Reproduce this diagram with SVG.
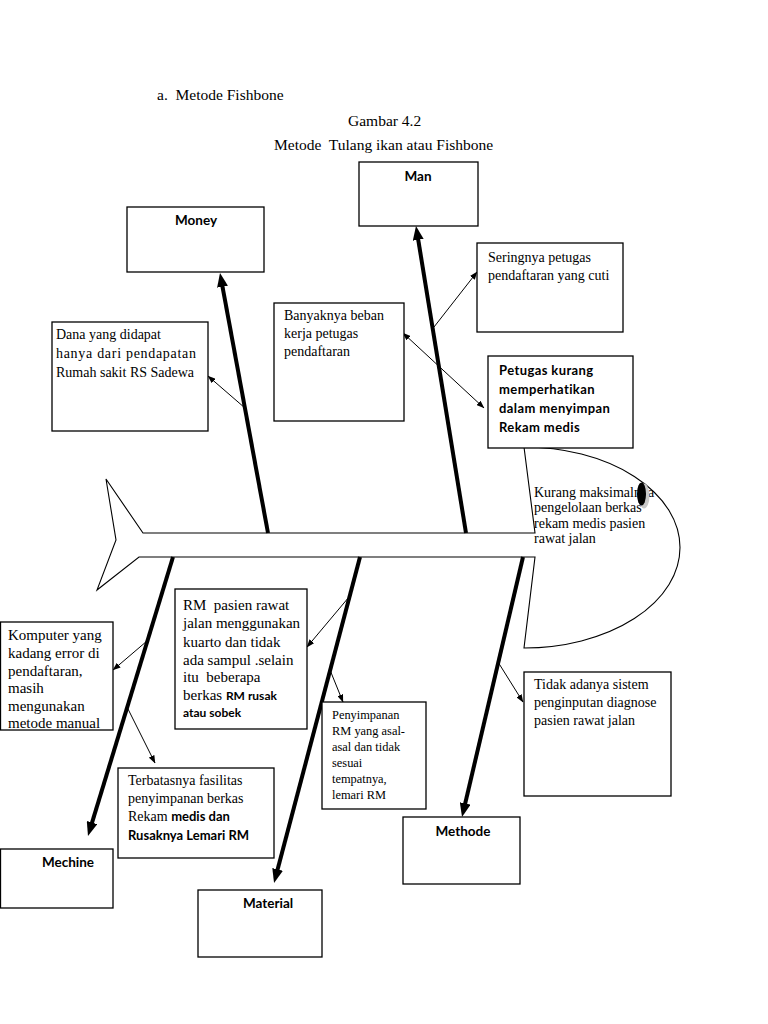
<svg xmlns="http://www.w3.org/2000/svg" width="768" height="1024" viewBox="0 0 768 1024">
  <defs>
    <style>
      .box { fill: #fff; stroke: #000; stroke-width: 1.3; }
      .serif { font-family: "Liberation Serif", "Times New Roman", serif; fill: #000; }
      .lbl { font-family: Lato, "Liberation Sans", sans-serif; font-weight: bold; font-size: 13.5px; fill: #000; text-anchor: middle; }
      .sansb { font-family: Lato, "Liberation Sans", sans-serif; font-weight: bold; fill: #000; }
      .bone { stroke: #000; stroke-width: 4; fill: none; marker-end: url(#bigArrow); }
      .thin { stroke: #000; stroke-width: 1; fill: none; marker-end: url(#smallArrow); }
      .fish { fill: #fff; stroke: #000; stroke-width: 1.1; stroke-linejoin: miter; }
    </style>
    <marker id="bigArrow" viewBox="0 0 14 11" markerWidth="14" markerHeight="11" refX="4" refY="5.5" orient="auto" markerUnits="userSpaceOnUse">
      <path d="M0,0 L14,5.5 L0,11 Z" fill="#000"/>
    </marker>
    <marker id="smallArrow" viewBox="0 0 8 6" markerWidth="8" markerHeight="6" refX="7.5" refY="3" orient="auto-start-reverse" markerUnits="userSpaceOnUse">
      <path d="M0,0 L8,3 L0,6 Z" fill="#000"/>
    </marker>
  </defs>

  <rect x="0" y="0" width="768" height="1024" fill="#fff"/>

  <!-- Titles -->
  <g id="titles" class="serif" font-size="15.5">
    <text x="157" y="100" xml:space="preserve">a.  Metode Fishbone</text>
    <text x="348" y="126">Gambar 4.2</text>
    <text x="274" y="150" xml:space="preserve">Metode  Tulang ikan atau Fishbone</text>
  </g>

  <!-- Fish body -->
  <g id="fish">
    <path class="fish" d="M106,479 L143,533 L535,533 L524,447 A156,100.5 0 0 1 524,648 L535,557 L139,557 L97,590 L116,540 Z"/>
    <g id="head-text" class="serif" font-size="14">
      <text x="534" y="497">Kurang maksimalnya</text>
      <text x="534" y="512">pengelolaan berkas</text>
      <text x="534" y="528">rekam medis pasien</text>
      <text x="534" y="543">rawat jalan</text>
    </g>
    <ellipse cx="644" cy="496" rx="5.5" ry="12.5" fill="#c8c8c8"/>
    <ellipse cx="641.5" cy="494" rx="4.5" ry="11.5" fill="#000"/>
  </g>

  <!-- Connectors -->
  <g id="connectors">
    <line class="bone" x1="268" y1="533" x2="221.8" y2="282.8"/>
    <line class="bone" x1="466" y1="533" x2="417.6" y2="235.9"/>
    <line class="bone" x1="173" y1="557" x2="90.9" y2="826.4"/>
    <line class="bone" x1="360" y1="557" x2="276.6" y2="873.3"/>
    <line class="bone" x1="523" y1="557" x2="464.3" y2="807.3"/>

    <line class="thin" x1="245" y1="408" x2="208" y2="376"/>
    <line class="thin" x1="434" y1="327" x2="477" y2="272"/>
    <line class="thin" x1="403" y1="333" x2="484" y2="408" marker-start="url(#smallArrow)"/>
    <line class="thin" x1="349" y1="597" x2="307" y2="647"/>
    <line class="thin" x1="330" y1="670" x2="343" y2="702"/>
    <line class="thin" x1="147" y1="641" x2="113" y2="670"/>
    <line class="thin" x1="127" y1="707" x2="155" y2="763"/>
    <line class="thin" x1="498" y1="662" x2="523" y2="702"/>
  </g>

  <!-- Category nodes -->
  <g id="man">
    <rect class="box" x="359" y="162" width="119" height="64"/>
    <text class="lbl" x="418" y="181">Man</text>
  </g>
  <g id="money">
    <rect class="box" x="127" y="207" width="137" height="65"/>
    <text class="lbl" x="196" y="225">Money</text>
  </g>
  <g id="methode">
    <rect class="box" x="403" y="817" width="117" height="67"/>
    <text class="lbl" x="463" y="836">Methode</text>
  </g>
  <g id="mechine">
    <rect class="box" x="0.5" y="849" width="112.5" height="59"/>
    <text class="lbl" x="68" y="867">Mechine</text>
  </g>
  <g id="material">
    <rect class="box" x="198" y="890" width="124" height="67"/>
    <text class="lbl" x="268" y="908">Material</text>
  </g>

  <!-- Cause nodes -->
  <g id="dana">
    <rect class="box" x="52" y="322" width="156" height="109"/>
    <g class="serif" font-size="14">
      <text x="56" y="339">Dana yang didapat</text>
      <text x="56" y="358" textLength="140" lengthAdjust="spacing">hanya dari pendapatan</text>
      <text x="56" y="377">Rumah sakit RS Sadewa</text>
    </g>
  </g>
  <g id="banyaknya">
    <rect class="box" x="274" y="303" width="130" height="118"/>
    <g class="serif" font-size="14">
      <text x="284" y="320">Banyaknya beban</text>
      <text x="284" y="338">kerja petugas</text>
      <text x="284" y="356">pendaftaran</text>
    </g>
  </g>
  <g id="seringnya">
    <rect class="box" x="477" y="243" width="146" height="89"/>
    <g class="serif" font-size="14">
      <text x="488" y="262">Seringnya petugas</text>
      <text x="488" y="280">pendaftaran yang cuti</text>
    </g>
  </g>
  <g id="petugas">
    <rect class="box" x="488" y="356" width="145" height="92"/>
    <g class="sansb" font-size="13">
      <text x="499" y="375" letter-spacing="0.4">Petugas kurang</text>
      <text x="499" y="394" letter-spacing="0.4">memperhatikan</text>
      <text x="499" y="413" letter-spacing="0.4">dalam menyimpan</text>
      <text x="499" y="432" letter-spacing="0.4">Rekam medis</text>
    </g>
  </g>
  <g id="rm">
    <rect class="box" x="175" y="589" width="132" height="140"/>
    <g class="serif" font-size="15">
      <text x="183" y="610" xml:space="preserve">RM  pasien rawat</text>
      <text x="183" y="628">jalan menggunakan</text>
      <text x="183" y="647">kuarto dan tidak</text>
      <text x="183" y="665">ada sampul .selain</text>
      <text x="183" y="682" xml:space="preserve">itu  beberapa</text>
      <text x="183" y="700" xml:space="preserve">berkas <tspan class="sansb" font-size="12">RM rusak</tspan></text>
      <text class="sansb" x="183" y="717" font-size="12">atau sobek</text>
    </g>
  </g>
  <g id="komputer">
    <rect class="box" x="0.5" y="622" width="112.5" height="108"/>
    <g class="serif" font-size="15">
      <text x="8" y="640">Komputer yang</text>
      <text x="8" y="658">kadang error di</text>
      <text x="8" y="676">pendaftaran,</text>
      <text x="8" y="693">masih</text>
      <text x="8" y="711">mengunakan</text>
      <text x="8" y="728">metode manual</text>
    </g>
  </g>
  <g id="terbatasnya">
    <rect class="box" x="118" y="768" width="156" height="90"/>
    <g class="serif" font-size="14">
      <text x="128" y="785">Terbatasnya fasilitas</text>
      <text x="128" y="803">penyimpanan berkas</text>
      <text x="128" y="821" xml:space="preserve">Rekam <tspan class="sansb" font-size="13">medis dan</tspan></text>
      <text class="sansb" x="128" y="840" font-size="13">Rusaknya Lemari RM</text>
    </g>
  </g>
  <g id="penyimpanan">
    <rect class="box" x="322" y="702" width="104" height="107"/>
    <g class="serif" font-size="12.4">
      <text x="332" y="719">Penyimpanan</text>
      <text x="332" y="735">RM yang asal-</text>
      <text x="332" y="751">asal dan tidak</text>
      <text x="332" y="767">sesuai</text>
      <text x="332" y="783">tempatnya,</text>
      <text x="332" y="799">lemari RM</text>
    </g>
  </g>
  <g id="tidak">
    <rect class="box" x="524" y="672" width="147" height="124"/>
    <g class="serif" font-size="14">
      <text x="534" y="689">Tidak adanya sistem</text>
      <text x="534" y="707">penginputan diagnose</text>
      <text x="534" y="725">pasien rawat jalan</text>
    </g>
  </g>
</svg>
